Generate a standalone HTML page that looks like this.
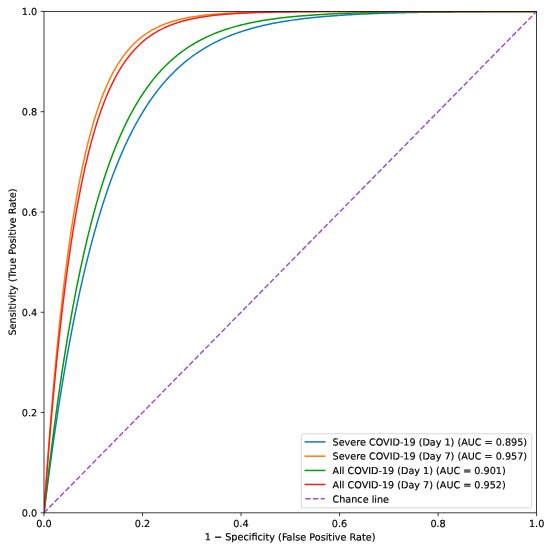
<!DOCTYPE html>
<html lang="en"><head><meta charset="utf-8"><title>ROC curves</title>
<style>
html,body{margin:0;padding:0;background:#fff;}
body{width:550px;height:550px;overflow:hidden;}
svg{display:block;}
text{font-family:"DejaVu Sans","Liberation Sans",sans-serif;font-size:9.68px;fill:#000;stroke:#000;stroke-width:0.18px;text-rendering:geometricPrecision;}
.lg{font-size:9.65px;}
</style></head><body>
<svg width="550" height="550" viewBox="0 0 550 550">
<rect x="0" y="0" width="550" height="550" fill="#ffffff"/>

<defs><clipPath id="ax"><rect x="44.00" y="11.40" width="492.60" height="501.45"/></clipPath></defs>
<g clip-path="url(#ax)" fill="none" stroke-width="1.50" stroke-linejoin="round" stroke-linecap="square">
<path d="M44.00 512.85 L44.49 508.84 L44.99 504.86 L45.48 500.92 L45.98 497.00 L46.47 493.12 L46.97 489.26 L47.46 485.44 L47.95 481.65 L48.45 477.89 L48.94 474.16 L49.44 470.46 L49.93 466.79 L50.43 463.15 L50.92 459.53 L51.41 455.95 L51.91 452.39 L52.40 448.87 L52.90 445.37 L53.39 441.90 L53.88 438.45 L54.38 435.04 L54.87 431.65 L55.37 428.29 L55.86 424.95 L56.36 421.65 L56.85 418.37 L57.34 415.11 L57.84 411.88 L58.33 408.68 L58.83 405.50 L59.32 402.35 L59.82 399.22 L60.31 396.12 L60.80 393.04 L61.30 389.99 L61.79 386.96 L62.29 383.96 L62.78 380.98 L63.28 378.02 L63.77 375.09 L64.26 372.18 L64.76 369.30 L65.25 366.43 L65.75 363.59 L66.24 360.78 L66.74 357.98 L67.23 355.21 L67.72 352.46 L68.22 349.73 L68.71 347.03 L69.21 344.34 L69.70 341.68 L70.20 339.04 L70.69 336.42 L71.18 333.82 L71.68 331.24 L72.17 328.68 L72.67 326.14 L73.16 323.62 L73.65 321.13 L74.15 318.65 L74.64 316.19 L75.14 313.75 L75.63 311.34 L76.13 308.94 L76.62 306.56 L77.11 304.19 L77.61 301.85 L78.10 299.53 L78.60 297.22 L79.09 294.94 L79.59 292.67 L80.08 290.42 L80.57 288.19 L81.07 285.97 L81.56 283.78 L82.06 281.60 L82.55 279.44 L83.05 277.29 L83.54 275.17 L84.03 273.06 L84.53 270.96 L85.02 268.89 L85.52 266.83 L86.01 264.78 L86.51 262.76 L87.00 260.74 L87.49 258.75 L87.99 256.77 L88.48 254.81 L88.98 252.86 L89.47 250.93 L89.97 249.01 L90.46 247.11 L90.95 245.23 L91.45 243.36 L91.94 241.50 L92.44 239.66 L92.93 237.83 L93.42 236.02 L93.92 234.22 L94.41 232.44 L94.91 230.67 L95.40 228.92 L95.90 227.18 L96.39 225.45 L96.88 223.74 L97.38 222.04 L97.87 220.35 L98.37 218.68 L98.86 217.02 L99.36 215.38 L99.85 213.75 L100.34 212.13 L100.84 210.52 L101.33 208.93 L101.83 207.35 L102.32 205.78 L102.82 204.23 L103.31 202.68 L103.80 201.15 L104.30 199.63 L104.79 198.13 L105.29 196.63 L105.78 195.15 L106.28 193.68 L106.77 192.22 L107.26 190.77 L107.76 189.34 L108.25 187.92 L108.75 186.50 L109.24 185.10 L109.73 183.71 L110.23 182.33 L110.72 180.96 L111.22 179.61 L111.71 178.26 L112.21 176.93 L112.70 175.60 L113.19 174.29 L113.69 172.98 L114.18 171.69 L114.68 170.41 L115.17 169.14 L115.67 167.87 L116.16 166.62 L116.65 165.38 L117.15 164.15 L117.64 162.92 L118.14 161.71 L118.63 160.51 L119.13 159.31 L119.62 158.13 L120.11 156.96 L120.61 155.79 L121.10 154.64 L121.60 153.49 L122.09 152.35 L122.59 151.22 L123.08 150.10 L123.57 148.99 L124.07 147.89 L124.56 146.80 L125.06 145.72 L125.55 144.64 L126.05 143.57 L126.54 142.52 L127.03 141.47 L127.53 140.43 L128.02 139.39 L128.52 138.37 L129.01 137.35 L129.50 136.34 L130.00 135.34 L130.49 134.35 L130.99 133.37 L131.48 132.39 L131.98 131.42 L132.47 130.46 L132.96 129.51 L133.46 128.56 L133.95 127.62 L134.45 126.69 L134.94 125.77 L135.44 124.86 L135.93 123.95 L136.42 123.05 L136.92 122.15 L137.41 121.26 L137.91 120.39 L138.40 119.51 L138.90 118.65 L139.39 117.79 L139.88 116.94 L140.38 116.09 L140.87 115.25 L141.37 114.42 L141.86 113.60 L142.36 112.78 L142.85 111.97 L143.34 111.16 L143.84 110.36 L144.33 109.57 L144.83 108.78 L145.32 108.00 L145.81 107.23 L146.31 106.46 L146.80 105.70 L147.30 104.95 L147.79 104.20 L148.29 103.45 L148.78 102.72 L149.27 101.98 L149.77 101.26 L150.26 100.54 L150.76 99.83 L151.25 99.12 L151.75 98.41 L152.24 97.72 L152.73 97.03 L153.23 96.34 L153.72 95.66 L154.22 94.98 L154.71 94.32 L155.21 93.65 L155.70 92.99 L156.19 92.34 L156.69 91.69 L157.18 91.05 L157.68 90.41 L158.17 89.78 L158.67 89.15 L159.16 88.52 L159.65 87.91 L160.15 87.29 L160.64 86.69 L161.14 86.08 L161.63 85.48 L162.13 84.89 L162.62 84.30 L163.11 83.72 L163.61 83.14 L164.10 82.56 L164.60 81.99 L165.09 81.43 L165.58 80.87 L166.08 80.31 L166.57 79.76 L167.07 79.21 L167.56 78.67 L168.06 78.13 L168.55 77.59 L169.04 77.06 L169.54 76.54 L170.03 76.01 L170.53 75.50 L171.02 74.98 L171.52 74.47 L172.01 73.97 L172.50 73.46 L173.00 72.97 L173.49 72.47 L173.99 71.98 L174.48 71.50 L174.98 71.02 L175.47 70.54 L175.96 70.06 L176.46 69.59 L176.95 69.13 L177.45 68.66 L177.94 68.21 L178.44 67.75 L178.93 67.30 L179.42 66.85 L179.92 66.41 L180.41 65.96 L180.91 65.53 L181.40 65.09 L181.90 64.66 L182.39 64.23 L182.88 63.81 L183.38 63.39 L183.87 62.97 L184.37 62.56 L184.86 62.15 L185.35 61.74 L185.85 61.34 L186.34 60.94 L186.84 60.54 L187.33 60.15 L187.83 59.76 L188.32 59.37 L188.81 58.98 L189.31 58.60 L189.80 58.22 L190.30 57.85 L190.79 57.47 L191.29 57.10 L191.78 56.74 L193.51 55.47 L195.25 54.25 L196.98 53.05 L198.71 51.89 L200.44 50.76 L202.18 49.67 L203.91 48.60 L205.64 47.56 L207.37 46.56 L209.11 45.58 L210.84 44.62 L212.57 43.70 L214.31 42.80 L216.04 41.92 L217.77 41.07 L219.50 40.24 L221.24 39.44 L222.97 38.65 L224.70 37.89 L226.44 37.15 L228.17 36.43 L229.90 35.73 L231.63 35.05 L233.37 34.39 L235.10 33.75 L236.83 33.13 L238.56 32.52 L240.30 31.93 L242.03 31.35 L243.76 30.79 L245.50 30.25 L247.23 29.72 L248.96 29.21 L250.69 28.71 L252.43 28.23 L254.16 27.76 L255.89 27.30 L257.63 26.85 L259.36 26.42 L261.09 26.00 L262.82 25.59 L264.56 25.19 L266.29 24.80 L268.02 24.42 L269.75 24.06 L271.49 23.70 L273.22 23.36 L274.95 23.02 L276.69 22.69 L278.42 22.37 L280.15 22.07 L281.88 21.76 L283.62 21.47 L285.35 21.19 L287.08 20.91 L288.81 20.64 L290.55 20.38 L292.28 20.13 L294.01 19.88 L295.75 19.64 L297.48 19.41 L299.21 19.18 L300.94 18.96 L302.68 18.75 L304.41 18.54 L306.14 18.33 L307.88 18.14 L309.61 17.95 L311.34 17.76 L313.07 17.58 L314.81 17.40 L316.54 17.23 L318.27 17.06 L320.00 16.90 L321.74 16.75 L323.47 16.59 L325.20 16.44 L326.94 16.30 L328.67 16.16 L330.40 16.02 L332.13 15.89 L333.87 15.76 L335.60 15.63 L337.33 15.51 L339.06 15.39 L340.80 15.28 L342.53 15.17 L344.26 15.06 L346.00 14.95 L347.73 14.85 L349.46 14.75 L351.19 14.65 L352.93 14.55 L354.66 14.46 L356.39 14.37 L358.13 14.29 L359.86 14.20 L361.59 14.12 L363.32 14.04 L365.06 13.96 L366.79 13.88 L368.52 13.81 L370.25 13.74 L371.99 13.67 L373.72 13.60 L375.45 13.54 L377.19 13.47 L378.92 13.41 L380.65 13.35 L382.38 13.29 L384.12 13.23 L385.85 13.18 L387.58 13.12 L389.32 13.07 L391.05 13.02 L392.78 12.97 L394.51 12.92 L396.25 12.88 L397.98 12.83 L399.71 12.79 L401.44 12.74 L403.18 12.70 L404.91 12.66 L406.64 12.62 L408.38 12.58 L410.11 12.54 L411.84 12.51 L413.57 12.47 L415.31 12.44 L417.04 12.40 L418.77 12.37 L420.50 12.34 L422.24 12.31 L423.97 12.28 L425.70 12.25 L427.44 12.22 L429.17 12.19 L430.90 12.17 L432.63 12.14 L434.37 12.12 L436.10 12.09 L437.83 12.07 L439.57 12.05 L441.30 12.02 L443.03 12.00 L444.76 11.98 L446.50 11.96 L448.23 11.94 L449.96 11.92 L451.69 11.90 L453.43 11.88 L455.16 11.86 L456.89 11.85 L458.63 11.83 L460.36 11.81 L462.09 11.80 L463.82 11.78 L465.56 11.77 L467.29 11.75 L469.02 11.74 L470.75 11.72 L472.49 11.71 L474.22 11.70 L475.95 11.68 L477.69 11.67 L479.42 11.66 L481.15 11.65 L482.88 11.63 L484.62 11.62 L486.35 11.61 L488.08 11.60 L489.82 11.59 L491.55 11.58 L493.28 11.57 L495.01 11.56 L496.75 11.55 L498.48 11.54 L500.21 11.54 L501.94 11.53 L503.68 11.52 L505.41 11.51 L507.14 11.50 L508.88 11.50 L510.61 11.49 L512.34 11.48 L514.07 11.47 L515.81 11.47 L517.54 11.46 L519.27 11.45 L521.01 11.45 L522.74 11.44 L524.47 11.44 L526.20 11.43 L527.94 11.43 L529.67 11.42 L531.40 11.41 L533.13 11.41 L534.87 11.40 L536.60 11.40" stroke="#0c7cc2"/>
<path d="M44.00 512.85 L44.49 505.36 L44.99 497.98 L45.48 490.71 L45.98 483.55 L46.47 476.50 L46.97 469.55 L47.46 462.71 L47.95 455.97 L48.45 449.33 L48.94 442.79 L49.44 436.34 L49.93 429.99 L50.43 423.74 L50.92 417.58 L51.41 411.51 L51.91 405.54 L52.40 399.65 L52.90 393.85 L53.39 388.14 L53.88 382.51 L54.38 376.97 L54.87 371.51 L55.37 366.13 L55.86 360.83 L56.36 355.61 L56.85 350.47 L57.34 345.40 L57.84 340.41 L58.33 335.50 L58.83 330.66 L59.32 325.89 L59.82 321.19 L60.31 316.56 L60.80 312.01 L61.30 307.51 L61.79 303.09 L62.29 298.73 L62.78 294.44 L63.28 290.21 L63.77 286.05 L64.26 281.95 L64.76 277.91 L65.25 273.93 L65.75 270.00 L66.24 266.14 L66.74 262.34 L67.23 258.59 L67.72 254.89 L68.22 251.26 L68.71 247.67 L69.21 244.15 L69.70 240.67 L70.20 237.24 L70.69 233.87 L71.18 230.55 L71.68 227.27 L72.17 224.05 L72.67 220.87 L73.16 217.74 L73.65 214.66 L74.15 211.63 L74.64 208.63 L75.14 205.69 L75.63 202.79 L76.13 199.93 L76.62 197.11 L77.11 194.34 L77.61 191.60 L78.10 188.91 L78.60 186.26 L79.09 183.65 L79.59 181.08 L80.08 178.54 L80.57 176.04 L81.07 173.59 L81.56 171.16 L82.06 168.78 L82.55 166.43 L83.05 164.11 L83.54 161.83 L84.03 159.58 L84.53 157.37 L85.02 155.19 L85.52 153.04 L86.01 150.92 L86.51 148.84 L87.00 146.79 L87.49 144.76 L87.99 142.77 L88.48 140.81 L88.98 138.88 L89.47 136.97 L89.97 135.10 L90.46 133.25 L90.95 131.43 L91.45 129.64 L91.94 127.87 L92.44 126.13 L92.93 124.42 L93.42 122.73 L93.92 121.07 L94.41 119.43 L94.91 117.81 L95.40 116.22 L95.90 114.66 L96.39 113.12 L96.88 111.60 L97.38 110.10 L97.87 108.63 L98.37 107.17 L98.86 105.74 L99.36 104.33 L99.85 102.95 L100.34 101.58 L100.84 100.23 L101.33 98.90 L101.83 97.60 L102.32 96.31 L102.82 95.04 L103.31 93.79 L103.80 92.56 L104.30 91.35 L104.79 90.15 L105.29 88.98 L105.78 87.82 L106.28 86.68 L106.77 85.55 L107.26 84.45 L107.76 83.35 L108.25 82.28 L108.75 81.22 L109.24 80.18 L109.73 79.15 L110.23 78.14 L110.72 77.14 L111.22 76.16 L111.71 75.19 L112.21 74.24 L112.70 73.30 L113.19 72.38 L113.69 71.47 L114.18 70.57 L114.68 69.68 L115.17 68.81 L115.67 67.96 L116.16 67.11 L116.65 66.28 L117.15 65.46 L117.64 64.65 L118.14 63.86 L118.63 63.07 L119.13 62.30 L119.62 61.54 L120.11 60.79 L120.61 60.05 L121.10 59.33 L121.60 58.61 L122.09 57.91 L122.59 57.21 L123.08 56.53 L123.57 55.85 L124.07 55.19 L124.56 54.53 L125.06 53.89 L125.55 53.26 L126.05 52.63 L126.54 52.01 L127.03 51.41 L127.53 50.81 L128.02 50.22 L128.52 49.64 L129.01 49.07 L129.50 48.51 L130.00 47.95 L130.49 47.41 L130.99 46.87 L131.48 46.34 L131.98 45.82 L132.47 45.30 L132.96 44.80 L133.46 44.30 L133.95 43.81 L134.45 43.32 L134.94 42.85 L135.44 42.38 L135.93 41.91 L136.42 41.46 L136.92 41.01 L137.41 40.57 L137.91 40.13 L138.40 39.70 L138.90 39.28 L139.39 38.86 L139.88 38.45 L140.38 38.05 L140.87 37.65 L141.37 37.26 L141.86 36.87 L142.36 36.49 L142.85 36.12 L143.34 35.75 L143.84 35.38 L144.33 35.03 L144.83 34.67 L145.32 34.32 L145.81 33.98 L146.31 33.64 L146.80 33.31 L147.30 32.99 L147.79 32.66 L148.29 32.35 L148.78 32.03 L149.27 31.72 L149.77 31.42 L150.26 31.12 L150.76 30.83 L151.25 30.54 L151.75 30.25 L152.24 29.97 L152.73 29.69 L153.23 29.42 L153.72 29.15 L154.22 28.88 L154.71 28.62 L155.21 28.37 L155.70 28.11 L156.19 27.86 L156.69 27.62 L157.18 27.37 L157.68 27.14 L158.17 26.90 L158.67 26.67 L159.16 26.44 L159.65 26.22 L160.15 26.00 L160.64 25.78 L161.14 25.56 L161.63 25.35 L162.13 25.14 L162.62 24.94 L163.11 24.74 L163.61 24.54 L164.10 24.34 L164.60 24.15 L165.09 23.96 L165.58 23.77 L166.08 23.58 L166.57 23.40 L167.07 23.22 L167.56 23.05 L168.06 22.87 L168.55 22.70 L169.04 22.53 L169.54 22.37 L170.03 22.20 L170.53 22.04 L171.02 21.88 L171.52 21.72 L172.01 21.57 L172.50 21.42 L173.00 21.27 L173.49 21.12 L173.99 20.98 L174.48 20.83 L174.98 20.69 L175.47 20.55 L175.96 20.42 L176.46 20.28 L176.95 20.15 L177.45 20.02 L177.94 19.89 L178.44 19.76 L178.93 19.64 L179.42 19.52 L179.92 19.39 L180.41 19.27 L180.91 19.16 L181.40 19.04 L181.90 18.93 L182.39 18.81 L182.88 18.70 L183.38 18.59 L183.87 18.49 L184.37 18.38 L184.86 18.28 L185.35 18.17 L185.85 18.07 L186.34 17.97 L186.84 17.88 L187.33 17.78 L187.83 17.68 L188.32 17.59 L188.81 17.50 L189.31 17.41 L189.80 17.32 L190.30 17.23 L190.79 17.14 L191.29 17.05 L191.78 16.97 L193.51 16.68 L195.25 16.41 L196.98 16.15 L198.71 15.91 L200.44 15.68 L202.18 15.46 L203.91 15.25 L205.64 15.05 L207.37 14.86 L209.11 14.69 L210.84 14.52 L212.57 14.36 L214.31 14.21 L216.04 14.06 L217.77 13.92 L219.50 13.79 L221.24 13.67 L222.97 13.55 L224.70 13.44 L226.44 13.34 L228.17 13.24 L229.90 13.14 L231.63 13.06 L233.37 12.97 L235.10 12.89 L236.83 12.81 L238.56 12.74 L240.30 12.67 L242.03 12.61 L243.76 12.54 L245.50 12.49 L247.23 12.43 L248.96 12.38 L250.69 12.33 L252.43 12.28 L254.16 12.23 L255.89 12.19 L257.63 12.15 L259.36 12.11 L261.09 12.07 L262.82 12.04 L264.56 12.01 L266.29 11.98 L268.02 11.95 L269.75 11.92 L271.49 11.89 L273.22 11.87 L274.95 11.84 L276.69 11.82 L278.42 11.80 L280.15 11.78 L281.88 11.76 L283.62 11.74 L285.35 11.72 L287.08 11.71 L288.81 11.69 L290.55 11.68 L292.28 11.66 L294.01 11.65 L295.75 11.63 L297.48 11.62 L299.21 11.61 L300.94 11.60 L302.68 11.59 L304.41 11.58 L306.14 11.57 L307.88 11.56 L309.61 11.55 L311.34 11.55 L313.07 11.54 L314.81 11.53 L316.54 11.52 L318.27 11.52 L320.00 11.51 L321.74 11.51 L323.47 11.50 L325.20 11.50 L326.94 11.49 L328.67 11.49 L330.40 11.48 L332.13 11.48 L333.87 11.47 L335.60 11.47 L337.33 11.47 L339.06 11.46 L340.80 11.46 L342.53 11.46 L344.26 11.45 L346.00 11.45 L347.73 11.45 L349.46 11.45 L351.19 11.44 L352.93 11.44 L354.66 11.44 L356.39 11.44 L358.13 11.44 L359.86 11.43 L361.59 11.43 L363.32 11.43 L365.06 11.43 L366.79 11.43 L368.52 11.43 L370.25 11.42 L371.99 11.42 L373.72 11.42 L375.45 11.42 L377.19 11.42 L378.92 11.42 L380.65 11.42 L382.38 11.42 L384.12 11.42 L385.85 11.41 L387.58 11.41 L389.32 11.41 L391.05 11.41 L392.78 11.41 L394.51 11.41 L396.25 11.41 L397.98 11.41 L399.71 11.41 L401.44 11.41 L403.18 11.41 L404.91 11.41 L406.64 11.41 L408.38 11.41 L410.11 11.41 L411.84 11.41 L413.57 11.41 L415.31 11.41 L417.04 11.41 L418.77 11.41 L420.50 11.41 L422.24 11.40 L423.97 11.40 L425.70 11.40 L427.44 11.40 L429.17 11.40 L430.90 11.40 L432.63 11.40 L434.37 11.40 L436.10 11.40 L437.83 11.40 L439.57 11.40 L441.30 11.40 L443.03 11.40 L444.76 11.40 L446.50 11.40 L448.23 11.40 L449.96 11.40 L451.69 11.40 L453.43 11.40 L455.16 11.40 L456.89 11.40 L458.63 11.40 L460.36 11.40 L462.09 11.40 L463.82 11.40 L465.56 11.40 L467.29 11.40 L469.02 11.40 L470.75 11.40 L472.49 11.40 L474.22 11.40 L475.95 11.40 L477.69 11.40 L479.42 11.40 L481.15 11.40 L482.88 11.40 L484.62 11.40 L486.35 11.40 L488.08 11.40 L489.82 11.40 L491.55 11.40 L493.28 11.40 L495.01 11.40 L496.75 11.40 L498.48 11.40 L500.21 11.40 L501.94 11.40 L503.68 11.40 L505.41 11.40 L507.14 11.40 L508.88 11.40 L510.61 11.40 L512.34 11.40 L514.07 11.40 L515.81 11.40 L517.54 11.40 L519.27 11.40 L521.01 11.40 L522.74 11.40 L524.47 11.40 L526.20 11.40 L527.94 11.40 L529.67 11.40 L531.40 11.40 L533.13 11.40 L534.87 11.40 L536.60 11.40" stroke="#ff7d0a"/>
<path d="M44.00 512.85 L44.49 508.34 L44.99 503.87 L45.48 499.45 L45.98 495.06 L46.47 490.71 L46.97 486.40 L47.46 482.13 L47.95 477.90 L48.45 473.70 L48.94 469.55 L49.44 465.43 L49.93 461.35 L50.43 457.30 L50.92 453.29 L51.41 449.32 L51.91 445.38 L52.40 441.48 L52.90 437.61 L53.39 433.78 L53.88 429.98 L54.38 426.22 L54.87 422.49 L55.37 418.79 L55.86 415.13 L56.36 411.50 L56.85 407.90 L57.34 404.34 L57.84 400.81 L58.33 397.31 L58.83 393.84 L59.32 390.40 L59.82 386.99 L60.31 383.61 L60.80 380.27 L61.30 376.95 L61.79 373.66 L62.29 370.41 L62.78 367.18 L63.28 363.98 L63.77 360.81 L64.26 357.67 L64.76 354.56 L65.25 351.47 L65.75 348.41 L66.24 345.38 L66.74 342.38 L67.23 339.40 L67.72 336.45 L68.22 333.53 L68.71 330.64 L69.21 327.76 L69.70 324.92 L70.20 322.10 L70.69 319.31 L71.18 316.54 L71.68 313.80 L72.17 311.08 L72.67 308.38 L73.16 305.71 L73.65 303.07 L74.15 300.44 L74.64 297.84 L75.14 295.27 L75.63 292.72 L76.13 290.19 L76.62 287.68 L77.11 285.20 L77.61 282.73 L78.10 280.29 L78.60 277.88 L79.09 275.48 L79.59 273.11 L80.08 270.75 L80.57 268.42 L81.07 266.11 L81.56 263.82 L82.06 261.55 L82.55 259.30 L83.05 257.07 L83.54 254.86 L84.03 252.67 L84.53 250.50 L85.02 248.35 L85.52 246.22 L86.01 244.11 L86.51 242.02 L87.00 239.95 L87.49 237.89 L87.99 235.85 L88.48 233.84 L88.98 231.84 L89.47 229.85 L89.97 227.89 L90.46 225.94 L90.95 224.01 L91.45 222.10 L91.94 220.21 L92.44 218.33 L92.93 216.47 L93.42 214.62 L93.92 212.80 L94.41 210.99 L94.91 209.19 L95.40 207.41 L95.90 205.65 L96.39 203.90 L96.88 202.17 L97.38 200.46 L97.87 198.76 L98.37 197.07 L98.86 195.40 L99.36 193.75 L99.85 192.11 L100.34 190.48 L100.84 188.87 L101.33 187.28 L101.83 185.70 L102.32 184.13 L102.82 182.57 L103.31 181.04 L103.80 179.51 L104.30 178.00 L104.79 176.50 L105.29 175.02 L105.78 173.54 L106.28 172.09 L106.77 170.64 L107.26 169.21 L107.76 167.79 L108.25 166.38 L108.75 164.99 L109.24 163.61 L109.73 162.24 L110.23 160.88 L110.72 159.54 L111.22 158.21 L111.71 156.89 L112.21 155.58 L112.70 154.28 L113.19 153.00 L113.69 151.72 L114.18 150.46 L114.68 149.21 L115.17 147.97 L115.67 146.74 L116.16 145.52 L116.65 144.32 L117.15 143.12 L117.64 141.94 L118.14 140.76 L118.63 139.60 L119.13 138.45 L119.62 137.31 L120.11 136.17 L120.61 135.05 L121.10 133.94 L121.60 132.84 L122.09 131.74 L122.59 130.66 L123.08 129.59 L123.57 128.53 L124.07 127.47 L124.56 126.43 L125.06 125.39 L125.55 124.37 L126.05 123.35 L126.54 122.35 L127.03 121.35 L127.53 120.36 L128.02 119.38 L128.52 118.41 L129.01 117.45 L129.50 116.49 L130.00 115.55 L130.49 114.61 L130.99 113.68 L131.48 112.76 L131.98 111.85 L132.47 110.95 L132.96 110.05 L133.46 109.16 L133.95 108.28 L134.45 107.41 L134.94 106.55 L135.44 105.69 L135.93 104.84 L136.42 104.00 L136.92 103.17 L137.41 102.35 L137.91 101.53 L138.40 100.72 L138.90 99.91 L139.39 99.12 L139.88 98.33 L140.38 97.55 L140.87 96.77 L141.37 96.00 L141.86 95.24 L142.36 94.49 L142.85 93.74 L143.34 93.00 L143.84 92.27 L144.33 91.54 L144.83 90.82 L145.32 90.10 L145.81 89.39 L146.31 88.69 L146.80 88.00 L147.30 87.31 L147.79 86.63 L148.29 85.95 L148.78 85.28 L149.27 84.61 L149.77 83.95 L150.26 83.30 L150.76 82.65 L151.25 82.01 L151.75 81.38 L152.24 80.75 L152.73 80.12 L153.23 79.51 L153.72 78.89 L154.22 78.29 L154.71 77.68 L155.21 77.09 L155.70 76.50 L156.19 75.91 L156.69 75.33 L157.18 74.76 L157.68 74.19 L158.17 73.62 L158.67 73.06 L159.16 72.51 L159.65 71.96 L160.15 71.41 L160.64 70.87 L161.14 70.34 L161.63 69.81 L162.13 69.28 L162.62 68.76 L163.11 68.24 L163.61 67.73 L164.10 67.22 L164.60 66.72 L165.09 66.22 L165.58 65.73 L166.08 65.24 L166.57 64.76 L167.07 64.28 L167.56 63.80 L168.06 63.33 L168.55 62.86 L169.04 62.40 L169.54 61.94 L170.03 61.48 L170.53 61.03 L171.02 60.59 L171.52 60.14 L172.01 59.71 L172.50 59.27 L173.00 58.84 L173.49 58.41 L173.99 57.99 L174.48 57.57 L174.98 57.15 L175.47 56.74 L175.96 56.33 L176.46 55.93 L176.95 55.53 L177.45 55.13 L177.94 54.74 L178.44 54.35 L178.93 53.96 L179.42 53.58 L179.92 53.20 L180.41 52.82 L180.91 52.45 L181.40 52.08 L181.90 51.71 L182.39 51.35 L182.88 50.99 L183.38 50.63 L183.87 50.28 L184.37 49.93 L184.86 49.58 L185.35 49.24 L185.85 48.90 L186.34 48.56 L186.84 48.23 L187.33 47.90 L187.83 47.57 L188.32 47.24 L188.81 46.92 L189.31 46.60 L189.80 46.28 L190.30 45.97 L190.79 45.66 L191.29 45.35 L191.78 45.04 L193.51 43.99 L195.25 42.97 L196.98 41.99 L198.71 41.03 L200.44 40.11 L202.18 39.21 L203.91 38.34 L205.64 37.50 L207.37 36.69 L209.11 35.90 L210.84 35.13 L212.57 34.39 L214.31 33.67 L216.04 32.98 L217.77 32.30 L219.50 31.65 L221.24 31.01 L222.97 30.40 L224.70 29.81 L226.44 29.23 L228.17 28.67 L229.90 28.13 L231.63 27.61 L233.37 27.10 L235.10 26.61 L236.83 26.14 L238.56 25.68 L240.30 25.23 L242.03 24.80 L243.76 24.38 L245.50 23.97 L247.23 23.58 L248.96 23.19 L250.69 22.83 L252.43 22.47 L254.16 22.12 L255.89 21.78 L257.63 21.46 L259.36 21.14 L261.09 20.84 L262.82 20.54 L264.56 20.26 L266.29 19.98 L268.02 19.71 L269.75 19.45 L271.49 19.19 L273.22 18.95 L274.95 18.71 L276.69 18.48 L278.42 18.26 L280.15 18.04 L281.88 17.84 L283.62 17.63 L285.35 17.44 L287.08 17.25 L288.81 17.06 L290.55 16.88 L292.28 16.71 L294.01 16.54 L295.75 16.38 L297.48 16.22 L299.21 16.07 L300.94 15.92 L302.68 15.78 L304.41 15.64 L306.14 15.51 L307.88 15.38 L309.61 15.25 L311.34 15.13 L313.07 15.01 L314.81 14.90 L316.54 14.79 L318.27 14.68 L320.00 14.58 L321.74 14.48 L323.47 14.38 L325.20 14.28 L326.94 14.19 L328.67 14.10 L330.40 14.02 L332.13 13.93 L333.87 13.85 L335.60 13.77 L337.33 13.70 L339.06 13.62 L340.80 13.55 L342.53 13.48 L344.26 13.42 L346.00 13.35 L347.73 13.29 L349.46 13.23 L351.19 13.17 L352.93 13.11 L354.66 13.06 L356.39 13.00 L358.13 12.95 L359.86 12.90 L361.59 12.85 L363.32 12.81 L365.06 12.76 L366.79 12.72 L368.52 12.67 L370.25 12.63 L371.99 12.59 L373.72 12.55 L375.45 12.51 L377.19 12.48 L378.92 12.44 L380.65 12.41 L382.38 12.37 L384.12 12.34 L385.85 12.31 L387.58 12.28 L389.32 12.25 L391.05 12.22 L392.78 12.19 L394.51 12.17 L396.25 12.14 L397.98 12.12 L399.71 12.09 L401.44 12.07 L403.18 12.05 L404.91 12.02 L406.64 12.00 L408.38 11.98 L410.11 11.96 L411.84 11.94 L413.57 11.92 L415.31 11.91 L417.04 11.89 L418.77 11.87 L420.50 11.85 L422.24 11.84 L423.97 11.82 L425.70 11.81 L427.44 11.79 L429.17 11.78 L430.90 11.77 L432.63 11.75 L434.37 11.74 L436.10 11.73 L437.83 11.71 L439.57 11.70 L441.30 11.69 L443.03 11.68 L444.76 11.67 L446.50 11.66 L448.23 11.65 L449.96 11.64 L451.69 11.63 L453.43 11.62 L455.16 11.61 L456.89 11.60 L458.63 11.60 L460.36 11.59 L462.09 11.58 L463.82 11.57 L465.56 11.56 L467.29 11.56 L469.02 11.55 L470.75 11.54 L472.49 11.54 L474.22 11.53 L475.95 11.53 L477.69 11.52 L479.42 11.51 L481.15 11.51 L482.88 11.50 L484.62 11.50 L486.35 11.49 L488.08 11.49 L489.82 11.48 L491.55 11.48 L493.28 11.47 L495.01 11.47 L496.75 11.47 L498.48 11.46 L500.21 11.46 L501.94 11.45 L503.68 11.45 L505.41 11.45 L507.14 11.44 L508.88 11.44 L510.61 11.44 L512.34 11.43 L514.07 11.43 L515.81 11.43 L517.54 11.43 L519.27 11.42 L521.01 11.42 L522.74 11.42 L524.47 11.42 L526.20 11.41 L527.94 11.41 L529.67 11.41 L531.40 11.41 L533.13 11.40 L534.87 11.40 L536.60 11.40" stroke="#059b0a"/>
<path d="M44.00 512.85 L44.49 505.86 L44.99 498.96 L45.48 492.16 L45.98 485.45 L46.47 478.84 L46.97 472.32 L47.46 465.89 L47.95 459.55 L48.45 453.30 L48.94 447.14 L49.44 441.06 L49.93 435.06 L50.43 429.15 L50.92 423.33 L51.41 417.58 L51.91 411.92 L52.40 406.33 L52.90 400.82 L53.39 395.39 L53.88 390.03 L54.38 384.75 L54.87 379.54 L55.37 374.41 L55.86 369.35 L56.36 364.35 L56.85 359.43 L57.34 354.57 L57.84 349.79 L58.33 345.07 L58.83 340.41 L59.32 335.82 L59.82 331.30 L60.31 326.84 L60.80 322.44 L61.30 318.10 L61.79 313.82 L62.29 309.60 L62.78 305.44 L63.28 301.34 L63.77 297.30 L64.26 293.31 L64.76 289.38 L65.25 285.50 L65.75 281.68 L66.24 277.91 L66.74 274.19 L67.23 270.52 L67.72 266.91 L68.22 263.34 L68.71 259.83 L69.21 256.36 L69.70 252.95 L70.20 249.58 L70.69 246.26 L71.18 242.98 L71.68 239.75 L72.17 236.57 L72.67 233.42 L73.16 230.33 L73.65 227.27 L74.15 224.26 L74.64 221.29 L75.14 218.37 L75.63 215.48 L76.13 212.63 L76.62 209.83 L77.11 207.06 L77.61 204.33 L78.10 201.64 L78.60 198.98 L79.09 196.37 L79.59 193.79 L80.08 191.24 L80.57 188.73 L81.07 186.26 L81.56 183.82 L82.06 181.42 L82.55 179.05 L83.05 176.71 L83.54 174.40 L84.03 172.13 L84.53 169.89 L85.02 167.67 L85.52 165.49 L86.01 163.35 L86.51 161.23 L87.00 159.14 L87.49 157.08 L87.99 155.04 L88.48 153.04 L88.98 151.06 L89.47 149.12 L89.97 147.20 L90.46 145.30 L90.95 143.43 L91.45 141.59 L91.94 139.78 L92.44 137.98 L92.93 136.22 L93.42 134.48 L93.92 132.76 L94.41 131.07 L94.91 129.40 L95.40 127.75 L95.90 126.13 L96.39 124.53 L96.88 122.95 L97.38 121.40 L97.87 119.86 L98.37 118.35 L98.86 116.86 L99.36 115.39 L99.85 113.94 L100.34 112.51 L100.84 111.10 L101.33 109.70 L101.83 108.33 L102.32 106.98 L102.82 105.65 L103.31 104.33 L103.80 103.04 L104.30 101.76 L104.79 100.50 L105.29 99.26 L105.78 98.03 L106.28 96.82 L106.77 95.63 L107.26 94.46 L107.76 93.30 L108.25 92.15 L108.75 91.03 L109.24 89.92 L109.73 88.82 L110.23 87.74 L110.72 86.68 L111.22 85.63 L111.71 84.59 L112.21 83.57 L112.70 82.56 L113.19 81.57 L113.69 80.59 L114.18 79.63 L114.68 78.68 L115.17 77.74 L115.67 76.81 L116.16 75.90 L116.65 75.00 L117.15 74.11 L117.64 73.24 L118.14 72.38 L118.63 71.53 L119.13 70.69 L119.62 69.86 L120.11 69.04 L120.61 68.24 L121.10 67.45 L121.60 66.67 L122.09 65.89 L122.59 65.13 L123.08 64.38 L123.57 63.65 L124.07 62.92 L124.56 62.20 L125.06 61.49 L125.55 60.79 L126.05 60.10 L126.54 59.42 L127.03 58.75 L127.53 58.09 L128.02 57.44 L128.52 56.80 L129.01 56.17 L129.50 55.54 L130.00 54.93 L130.49 54.32 L130.99 53.72 L131.48 53.13 L131.98 52.55 L132.47 51.97 L132.96 51.41 L133.46 50.85 L133.95 50.30 L134.45 49.76 L134.94 49.22 L135.44 48.69 L135.93 48.17 L136.42 47.66 L136.92 47.16 L137.41 46.66 L137.91 46.16 L138.40 45.68 L138.90 45.20 L139.39 44.73 L139.88 44.27 L140.38 43.81 L140.87 43.35 L141.37 42.91 L141.86 42.47 L142.36 42.04 L142.85 41.61 L143.34 41.19 L143.84 40.77 L144.33 40.36 L144.83 39.96 L145.32 39.56 L145.81 39.17 L146.31 38.78 L146.80 38.40 L147.30 38.02 L147.79 37.65 L148.29 37.28 L148.78 36.92 L149.27 36.57 L149.77 36.22 L150.26 35.87 L150.76 35.53 L151.25 35.19 L151.75 34.86 L152.24 34.53 L152.73 34.21 L153.23 33.89 L153.72 33.58 L154.22 33.27 L154.71 32.96 L155.21 32.66 L155.70 32.37 L156.19 32.07 L156.69 31.79 L157.18 31.50 L157.68 31.22 L158.17 30.94 L158.67 30.67 L159.16 30.40 L159.65 30.14 L160.15 29.88 L160.64 29.62 L161.14 29.36 L161.63 29.11 L162.13 28.87 L162.62 28.62 L163.11 28.38 L163.61 28.15 L164.10 27.91 L164.60 27.68 L165.09 27.45 L165.58 27.23 L166.08 27.01 L166.57 26.79 L167.07 26.58 L167.56 26.37 L168.06 26.16 L168.55 25.95 L169.04 25.75 L169.54 25.55 L170.03 25.35 L170.53 25.16 L171.02 24.96 L171.52 24.78 L172.01 24.59 L172.50 24.40 L173.00 24.22 L173.49 24.04 L173.99 23.87 L174.48 23.69 L174.98 23.52 L175.47 23.35 L175.96 23.19 L176.46 23.02 L176.95 22.86 L177.45 22.70 L177.94 22.54 L178.44 22.39 L178.93 22.23 L179.42 22.08 L179.92 21.93 L180.41 21.79 L180.91 21.64 L181.40 21.50 L181.90 21.36 L182.39 21.22 L182.88 21.08 L183.38 20.95 L183.87 20.81 L184.37 20.68 L184.86 20.55 L185.35 20.43 L185.85 20.30 L186.34 20.18 L186.84 20.05 L187.33 19.93 L187.83 19.81 L188.32 19.70 L188.81 19.58 L189.31 19.47 L189.80 19.35 L190.30 19.24 L190.79 19.13 L191.29 19.03 L191.78 18.92 L193.51 18.56 L195.25 18.21 L196.98 17.89 L198.71 17.57 L200.44 17.28 L202.18 17.00 L203.91 16.73 L205.64 16.47 L207.37 16.23 L209.11 15.99 L210.84 15.77 L212.57 15.56 L214.31 15.36 L216.04 15.17 L217.77 14.99 L219.50 14.82 L221.24 14.65 L222.97 14.50 L224.70 14.35 L226.44 14.21 L228.17 14.07 L229.90 13.94 L231.63 13.82 L233.37 13.71 L235.10 13.59 L236.83 13.49 L238.56 13.39 L240.30 13.29 L242.03 13.20 L243.76 13.12 L245.50 13.03 L247.23 12.95 L248.96 12.88 L250.69 12.81 L252.43 12.74 L254.16 12.68 L255.89 12.62 L257.63 12.56 L259.36 12.50 L261.09 12.45 L262.82 12.40 L264.56 12.35 L266.29 12.30 L268.02 12.26 L269.75 12.22 L271.49 12.18 L273.22 12.14 L274.95 12.11 L276.69 12.07 L278.42 12.04 L280.15 12.01 L281.88 11.98 L283.62 11.95 L285.35 11.93 L287.08 11.90 L288.81 11.88 L290.55 11.85 L292.28 11.83 L294.01 11.81 L295.75 11.79 L297.48 11.77 L299.21 11.75 L300.94 11.74 L302.68 11.72 L304.41 11.71 L306.14 11.69 L307.88 11.68 L309.61 11.66 L311.34 11.65 L313.07 11.64 L314.81 11.63 L316.54 11.62 L318.27 11.61 L320.00 11.60 L321.74 11.59 L323.47 11.58 L325.20 11.57 L326.94 11.56 L328.67 11.55 L330.40 11.55 L332.13 11.54 L333.87 11.53 L335.60 11.53 L337.33 11.52 L339.06 11.51 L340.80 11.51 L342.53 11.50 L344.26 11.50 L346.00 11.49 L347.73 11.49 L349.46 11.48 L351.19 11.48 L352.93 11.48 L354.66 11.47 L356.39 11.47 L358.13 11.47 L359.86 11.46 L361.59 11.46 L363.32 11.46 L365.06 11.45 L366.79 11.45 L368.52 11.45 L370.25 11.45 L371.99 11.44 L373.72 11.44 L375.45 11.44 L377.19 11.44 L378.92 11.44 L380.65 11.43 L382.38 11.43 L384.12 11.43 L385.85 11.43 L387.58 11.43 L389.32 11.43 L391.05 11.43 L392.78 11.42 L394.51 11.42 L396.25 11.42 L397.98 11.42 L399.71 11.42 L401.44 11.42 L403.18 11.42 L404.91 11.42 L406.64 11.42 L408.38 11.42 L410.11 11.41 L411.84 11.41 L413.57 11.41 L415.31 11.41 L417.04 11.41 L418.77 11.41 L420.50 11.41 L422.24 11.41 L423.97 11.41 L425.70 11.41 L427.44 11.41 L429.17 11.41 L430.90 11.41 L432.63 11.41 L434.37 11.41 L436.10 11.41 L437.83 11.41 L439.57 11.41 L441.30 11.41 L443.03 11.41 L444.76 11.41 L446.50 11.40 L448.23 11.40 L449.96 11.40 L451.69 11.40 L453.43 11.40 L455.16 11.40 L456.89 11.40 L458.63 11.40 L460.36 11.40 L462.09 11.40 L463.82 11.40 L465.56 11.40 L467.29 11.40 L469.02 11.40 L470.75 11.40 L472.49 11.40 L474.22 11.40 L475.95 11.40 L477.69 11.40 L479.42 11.40 L481.15 11.40 L482.88 11.40 L484.62 11.40 L486.35 11.40 L488.08 11.40 L489.82 11.40 L491.55 11.40 L493.28 11.40 L495.01 11.40 L496.75 11.40 L498.48 11.40 L500.21 11.40 L501.94 11.40 L503.68 11.40 L505.41 11.40 L507.14 11.40 L508.88 11.40 L510.61 11.40 L512.34 11.40 L514.07 11.40 L515.81 11.40 L517.54 11.40 L519.27 11.40 L521.01 11.40 L522.74 11.40 L524.47 11.40 L526.20 11.40 L527.94 11.40 L529.67 11.40 L531.40 11.40 L533.13 11.40 L534.87 11.40 L536.60 11.40" stroke="#fa1e1e"/>
<path d="M44.00 512.85 L536.60 11.40" stroke="#9c52d6" stroke-dasharray="5.362 2.318" stroke-linecap="butt"/>
</g>
<g stroke="#000" stroke-width="0.76" fill="none">
<path d="M44.00 512.85 v3.34"/>
<path d="M44.00 512.85 h-3.34"/>
<path d="M142.52 512.85 v3.34"/>
<path d="M44.00 412.56 h-3.34"/>
<path d="M241.04 512.85 v3.34"/>
<path d="M44.00 312.27 h-3.34"/>
<path d="M339.56 512.85 v3.34"/>
<path d="M44.00 211.98 h-3.34"/>
<path d="M438.08 512.85 v3.34"/>
<path d="M44.00 111.69 h-3.34"/>
<path d="M536.60 512.85 v3.34"/>
<path d="M44.00 11.40 h-3.34"/>
<rect x="44.00" y="11.40" width="492.60" height="501.45" stroke-linejoin="miter"/>
</g>
<text transform="translate(44.00 526.90) rotate(0.05)" text-anchor="middle">0.0</text>
<text transform="translate(37.20 516.52) rotate(0.05)" text-anchor="end">0.0</text>
<text transform="translate(142.52 526.90) rotate(0.05)" text-anchor="middle">0.2</text>
<text transform="translate(37.20 416.23) rotate(0.05)" text-anchor="end">0.2</text>
<text transform="translate(241.04 526.90) rotate(0.05)" text-anchor="middle">0.4</text>
<text transform="translate(37.20 315.94) rotate(0.05)" text-anchor="end">0.4</text>
<text transform="translate(339.56 526.90) rotate(0.05)" text-anchor="middle">0.6</text>
<text transform="translate(37.20 215.65) rotate(0.05)" text-anchor="end">0.6</text>
<text transform="translate(438.08 526.90) rotate(0.05)" text-anchor="middle">0.8</text>
<text transform="translate(37.20 115.36) rotate(0.05)" text-anchor="end">0.8</text>
<text transform="translate(536.60 526.90) rotate(0.05)" text-anchor="middle">1.0</text>
<text transform="translate(37.20 15.07) rotate(0.05)" text-anchor="end">1.0</text>
<text transform="translate(290.15 540.40) rotate(0.05)" text-anchor="middle">1 − Specificity (False Positive Rate)</text>
<text transform="translate(15.80 261.98) rotate(-89.95)" text-anchor="middle">Sensitivity (True Positive Rate)</text>
<rect x="301.30" y="433.80" width="230.40" height="74.10" rx="1.9" ry="1.9" fill="#ffffff" fill-opacity="0.8" stroke="#cccccc" stroke-opacity="0.8" stroke-width="0.955"/>
<path d="M305.30 441.90 h19.46" stroke="#0c7cc2" stroke-width="1.50" fill="none" stroke-linecap="square"/>
<text class="lg" transform="translate(332.55 445.40) rotate(0.05)">Severe COVID-19 (Day 1) (AUC = 0.895)</text>
<path d="M305.30 456.20 h19.46" stroke="#ff7d0a" stroke-width="1.50" fill="none" stroke-linecap="square"/>
<text class="lg" transform="translate(332.55 459.45) rotate(0.05)">Severe COVID-19 (Day 7) (AUC = 0.957)</text>
<path d="M305.30 470.45 h19.46" stroke="#059b0a" stroke-width="1.50" fill="none" stroke-linecap="square"/>
<text class="lg" transform="translate(332.55 473.96) rotate(0.05)">All COVID-19 (Day 1) (AUC = 0.901)</text>
<path d="M305.30 484.45 h19.46" stroke="#fa1e1e" stroke-width="1.50" fill="none" stroke-linecap="square"/>
<text class="lg" transform="translate(332.55 488.19) rotate(0.05)">All COVID-19 (Day 7) (AUC = 0.952)</text>
<path d="M305.30 498.80 h19.46" stroke="#9c52d6" stroke-width="1.50" fill="none" stroke-linecap="butt" stroke-dasharray="5.362 2.318"/>
<text class="lg" transform="translate(332.55 502.60) rotate(0.05)">Chance line</text>
</svg></body></html>
